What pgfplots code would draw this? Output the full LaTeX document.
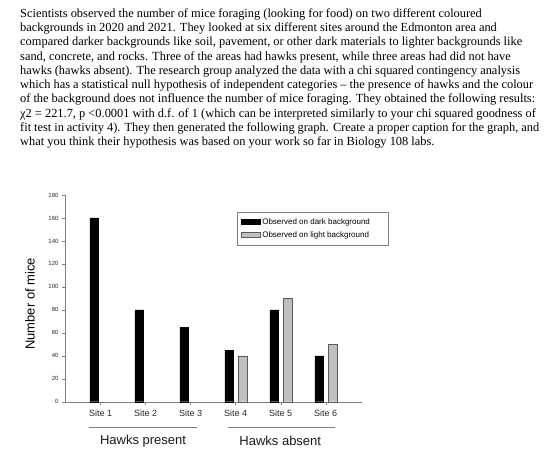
\documentclass[border=0pt]{standalone}
\usepackage{fontspec}
\setmainfont{Liberation Sans}
\newfontfamily\tnr{Liberation Serif}
\usepackage{pgfplots}
\pgfplotsset{compat=1.18}
\definecolor{axgray}{HTML}{808080}
\definecolor{lightbar}{HTML}{C0C0C0}
\definecolor{edgebar}{HTML}{5A5A5A}
\newcommand\pline[2]{\makebox[#1][s]{#2}}
\begin{document}
\begin{tikzpicture}
\path[use as bounding box] (0pt,0pt) rectangle (559pt,-457pt);
\begin{scope}[every node/.style={anchor=base west, inner sep=0pt, font=\tnr\fontsize{12.4}{14.4}\selectfont}]
\node at (20pt,-17.3pt) {\pline{461.7pt}{Scientists observed the number of mice foraging (looking for food) on two different coloured}};
\node at (20pt,-31.6pt) {\pline{476.7pt}{backgrounds in 2020 and 2021. They looked at six different sites around the Edmonton area and}};
\node at (20pt,-45.8pt) {\pline{502pt}{compared darker backgrounds like soil, pavement, or other dark materials to lighter backgrounds like}};
\node at (20pt,-60.1pt) {\pline{490.7pt}{sand, concrete, and rocks. Three of the areas had hawks present, while three areas had did not have}};
\node at (20pt,-74.4pt) {\pline{500pt}{hawks (hawks absent). The research group analyzed the data with a chi squared contingency analysis}};
\node at (20pt,-88.7pt) {\pline{513pt}{which has a statistical null hypothesis of independent categories – the presence of hawks and the colour}};
\node at (20pt,-102.9pt) {\pline{515pt}{of the background does not influence the number of mice foraging. They obtained the following results:}};
\node at (20pt,-117.2pt) {\pline{515.7pt}{χ2 = 221.7, p <0.0001 with d.f. of 1 (which can be interpreted similarly to your chi squared goodness of}};
\node at (20pt,-131.5pt) {\pline{519pt}{fit test in activity 4). They then generated the following graph. Create a proper caption for the graph, and}};
\node at (20pt,-145.7pt) {\pline{414.3pt}{what you think their hypothesis was based on your work so far in Biology 108 labs.}};
\end{scope}
\begin{axis}[
  at={(65pt,-401.7pt)}, anchor=south west,
  scale only axis, width=296.7pt, height=206.7pt,
  xmin=0.207, xmax=6.8, ymin=0, ymax=180,
  axis x line*=bottom, axis y line*=left,
  axis line style={axgray, -},
  ybar, bar width=8.7pt,
  xtick={1,2,3,4,5,6},
  xticklabels={Site 1,Site 2,Site 3,Site 4,Site 5,Site 6},
  ytick={0,20,...,180},
  tick align=outside, major tick length=3pt,
  tick style={axgray, thin},
  /pgf/number format/assume math mode=true,
  xticklabel style={font=\fontsize{9}{10}\selectfont, yshift=-1.5pt, text=black!85},
  yticklabel style={font=\fontsize{6}{7}\selectfont, text=black!85},
  ylabel={Number of mice},
  every axis y label/.style={at={(axis description cs:-0.118,0.473)}, rotate=90, anchor=center, font=\fontsize{13}{15}\selectfont},
  clip=false,
  legend style={at={(rel axis cs:0.5787,0.919)}, anchor=north west, draw=axgray,
    font=\fontsize{8}{9}\selectfont, inner xsep=4.5pt, inner ysep=4.5pt, row sep=1.5pt},
  legend cell align=left,
  legend image code/.code={\draw[#1] (0pt,-2.4pt) rectangle (18.5pt,2.4pt);},
]
\addplot[fill=black, draw=black, bar shift=-6.4pt] coordinates {(1,160) (2,80) (3,65) (4,45) (5,80) (6,40)};
\addlegendentry{Observed on dark background\hspace*{12pt}}
\addplot[fill=lightbar, draw=edgebar, bar shift=7.2pt] coordinates {(4,40) (5,90) (6,50)};
\addlegendentry{Observed on light background}
\draw[axgray] ([yshift=-25.3pt]axis cs:0.747,0) -- ([yshift=-25.3pt]axis cs:3.133,0);
\draw[axgray] ([yshift=-25.3pt]axis cs:3.82,0) -- ([yshift=-25.3pt]axis cs:6.2,0);
\node[font=\fontsize{13}{15}\selectfont, text=black!90] at ([yshift=-39.5pt]axis cs:1.94,0) {Hawks present};
\node[font=\fontsize{13}{15}\selectfont, text=black!90] at ([yshift=-39.5pt]axis cs:4.99,0) {Hawks absent};
\end{axis}
\end{tikzpicture}
\end{document}
